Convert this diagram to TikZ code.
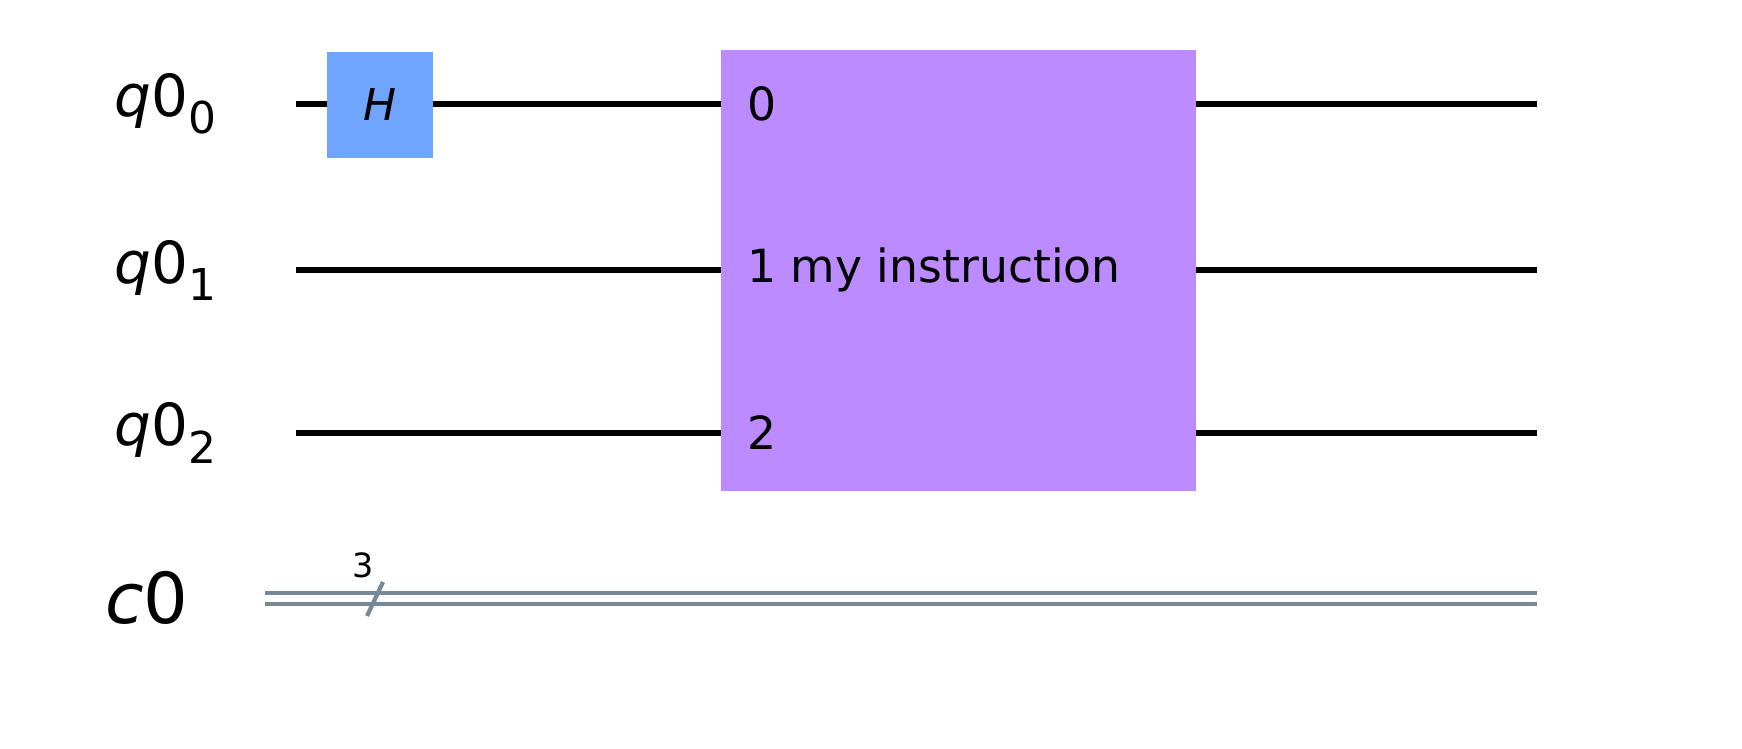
\documentclass[tikz,border=0pt]{standalone}
\usepackage{fontspec}
\setmainfont{DejaVu Sans}
\definecolor{hcol}{HTML}{6FA4FF}
\definecolor{icol}{HTML}{BB8BFF}
\definecolor{ccol}{HTML}{778899}
\begin{document}
\begin{tikzpicture}[x=0.02cm,y=-0.02cm,
  qwire/.style={line width=2.9pt,black},
  cwire/.style={line width=2.8pt,ccol},
  wlabel/.style={font=\fontsize{33}{38}\selectfont},
  glabel/.style={font=\fontsize{26}{30}\selectfont,anchor=west,inner sep=0}]
\useasboundingbox (0,0) rectangle (1742,748);
% wires
\coordinate (q0s) at (296,104); \coordinate (q0e) at (1537,104);
\coordinate (q1s) at (296,270); \coordinate (q1e) at (1537,270);
\coordinate (q2s) at (296,433); \coordinate (q2e) at (1537,433);
\draw[qwire] (q0s) -- (q0e);
\draw[qwire] (q1s) -- (q1e);
\draw[qwire] (q2s) -- (q2e);
\coordinate (ca) at (265,593); \coordinate (cb) at (1537,593);
\coordinate (cc) at (265,604); \coordinate (cd) at (1537,604);
\draw[cwire] (ca) -- (cb);
\draw[cwire] (cc) -- (cd);
\coordinate (s1) at (367,616); \coordinate (s2) at (383,582);
\draw[ccol,line width=2.4pt] (s1) -- (s2);
\node[font=\fontsize{19}{22}\selectfont] (three) at (363,565) {3};
% gates
\fill[hcol] (327,52) rectangle (433,158);
\node[font=\fontsize{25}{30}\selectfont\itshape] (h) at (380,104) {H};
\fill[icol] (721,50) rectangle (1196,491);
\node[glabel] (l0) at (747,104) {0};
\node[glabel] (l1) at (747,270) {1 my instruction};
\node[glabel] (l2) at (747,433) {2};
% labels
\node[wlabel] (n0) at (166,104) {\textit{q}0$_{\fontsize{25}{30}\selectfont\textrm{0}}$};
\node[wlabel] (n1) at (166,270) {\textit{q}0$_{\fontsize{25}{30}\selectfont\textrm{1}}$};
\node[wlabel] (n2) at (166,433) {\textit{q}0$_{\fontsize{25}{30}\selectfont\textrm{2}}$};
\node[font=\fontsize{40}{46}\selectfont] (c0) at (147,598) {\textit{c}0};
\end{tikzpicture}
\end{document}
